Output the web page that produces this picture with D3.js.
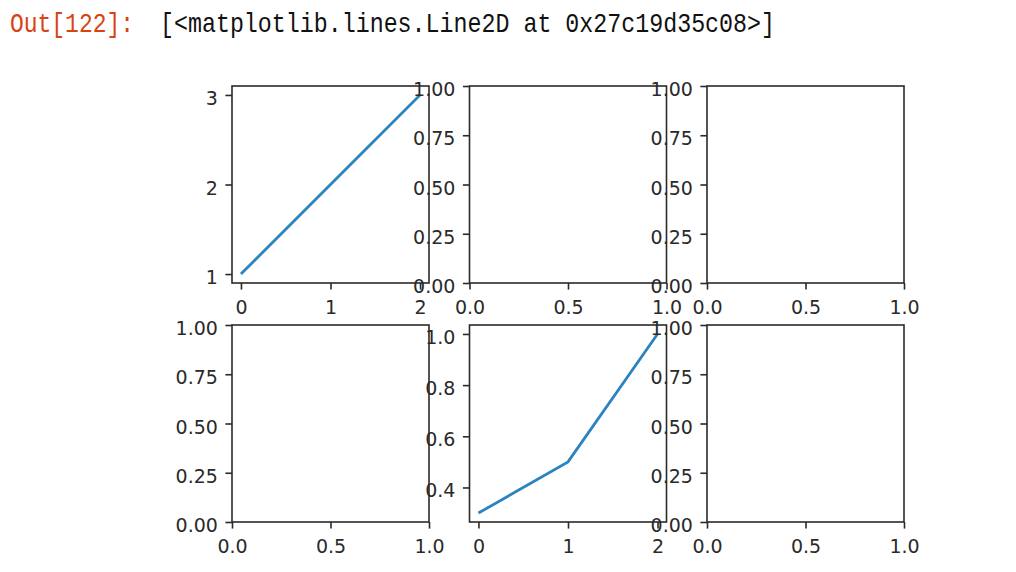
<!DOCTYPE html>
<html>
<head>
<meta charset="utf-8">
<script src="https://cdn.jsdelivr.net/npm/d3@7"></script>
<style>
  body { margin: 0; background: #fff; }
  svg { display: block; }
</style>
</head>
<body>
<div id="chart"></div>
<script>
// notebook output line
const outPrompt = "Out[122]:";
const outRepr = "[<matplotlib.lines.Line2D at 0x27c19d35c08>]";

// panel (0,0): plot([1,2,3])
const line1X = [0, 1, 2];
const line1Y = [1, 2, 3];
const line1XTicks = [0, 1, 2];
const line1YTicks = [1, 2, 3];

// panel (1,1): plot([0.3,0.5,1.0])
const line2X = [0, 1, 2];
const line2Y = [0.3, 0.5, 1.0];
const line2XTicks = [0, 1, 2];
const line2YTicks = [0.4, 0.6, 0.8, 1.0];

// empty panels
const emptyXTicks = [0, 0.5, 1];
const emptyYTicks = [0, 0.25, 0.5, 0.75, 1];

const width = 1016;
const height = 572;

const svg = d3.select("#chart").append("svg")
  .attr("width", width)
  .attr("height", height);

const mono = "'Liberation Mono', 'DejaVu Sans Mono', monospace";
svg.append("text")
  .attr("x", 10).attr("y", 32)
  .attr("font-family", mono).attr("font-size", 28)
  .attr("textLength", 124).attr("lengthAdjust", "spacingAndGlyphs")
  .attr("fill", "#d84315")
  .text(outPrompt);
svg.append("text")
  .attr("x", 160).attr("y", 32)
  .attr("font-family", mono).attr("font-size", 28)
  .attr("textLength", 615).attr("lengthAdjust", "spacingAndGlyphs")
  .attr("fill", "#111")
  .text(outRepr);

// layout of the 2x3 grid
const left0 = 232, colStep = 237.5, pw = 197;
const top0 = 86, rowStep = 239, ph = 197;
const tickLen = 6.6, tickPad = 7.5;
const ink = "#2a2a2a";

function pad(ext) {
  const m = (ext[1] - ext[0]) * 0.05;
  return [ext[0] - m, ext[1] + m];
}

function panel(row, col, opts) {
  const x0 = left0 + col * colStep;
  const y0 = top0 + row * rowStep;
  const g = svg.append("g").attr("transform", `translate(${x0},${y0})`);

  const x = d3.scaleLinear().domain(opts.xDomain).range([0, pw]);
  const y = d3.scaleLinear().domain(opts.yDomain).range([ph, 0]);

  if (opts.xs) {
    const line = d3.line().x((d, i) => x(opts.xs[i])).y(d => y(d));
    g.append("path")
      .datum(opts.ys)
      .attr("fill", "none")
      .attr("stroke", "#2b83c0")
      .attr("stroke-width", 2.8)
      .attr("d", line);
  }

  g.append("rect")
    .attr("width", pw).attr("height", ph)
    .attr("fill", "none")
    .attr("stroke", ink)
    .attr("stroke-width", 1.6);

  const xAxis = g.append("g")
    .attr("transform", `translate(0,${ph})`)
    .call(d3.axisBottom(x).tickValues(opts.xTicks).tickFormat(opts.xFmt)
      .tickSize(tickLen).tickPadding(tickPad));
  const yAxis = g.append("g")
    .call(d3.axisLeft(y).tickValues(opts.yTicks).tickFormat(opts.yFmt)
      .tickSize(tickLen).tickPadding(tickPad));

  [xAxis, yAxis].forEach(a => {
    a.select(".domain").remove();
    a.attr("font-family", "'DejaVu Sans', sans-serif").attr("font-size", 19);
    a.selectAll("line").attr("stroke", ink).attr("stroke-width", 1.6);
    a.selectAll("text").attr("fill", ink);
  });
  xAxis.selectAll("text").attr("dy", "0.88em");
  yAxis.selectAll("text").attr("dy", "0.5em");
}

const emptyOpts = {
  xDomain: [0, 1], yDomain: [0, 1],
  xTicks: emptyXTicks, yTicks: emptyYTicks,
  xFmt: d3.format(".1f"), yFmt: d3.format(".2f")
};

panel(0, 0, {
  xDomain: pad(d3.extent(line1X)), yDomain: pad(d3.extent(line1Y)),
  xTicks: line1XTicks, yTicks: line1YTicks,
  xFmt: d3.format("d"), yFmt: d3.format("d"),
  xs: line1X, ys: line1Y
});
panel(0, 1, emptyOpts);
panel(0, 2, emptyOpts);
panel(1, 0, emptyOpts);
panel(1, 1, {
  xDomain: pad(d3.extent(line2X)), yDomain: pad(d3.extent(line2Y)),
  xTicks: line2XTicks, yTicks: line2YTicks,
  xFmt: d3.format("d"), yFmt: d3.format(".1f"),
  xs: line2X, ys: line2Y
});
panel(1, 2, emptyOpts);
</script>
</body>
</html>
